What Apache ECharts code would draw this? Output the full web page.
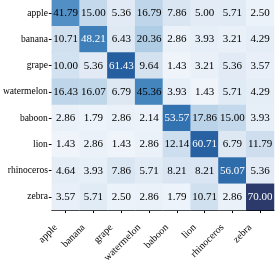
<!DOCTYPE html>
<html><head><meta charset="utf-8">
<script src="https://cdn.jsdelivr.net/npm/echarts@6/dist/echarts.min.js"></script>
<style>html,body{margin:0;padding:0;background:#fff}#c{width:276px;height:265px}</style>
</head><body><div id="c"></div>
<script>
var categories = ['apple','banana','grape','watermelon','baboon','lion','rhinoceros','zebra'];
var row_apple = [41.79,15.00,5.36,16.79,7.86,5.00,5.71,2.50];
var row_banana = [10.71,48.21,6.43,20.36,2.86,3.93,3.21,4.29];
var row_grape = [10.00,5.36,61.43,9.64,1.43,3.21,5.36,3.57];
var row_watermelon = [16.43,16.07,6.79,45.36,3.93,1.43,5.71,4.29];
var row_baboon = [2.86,1.79,2.86,2.14,53.57,17.86,15.00,3.93];
var row_lion = [1.43,2.86,1.43,2.86,12.14,60.71,6.79,11.79];
var row_rhinoceros = [4.64,3.93,7.86,5.71,8.21,8.21,56.07,5.36];
var row_zebra = [3.57,5.71,2.50,2.86,1.79,10.71,2.86,70.00];
var rows = [row_apple,row_banana,row_grape,row_watermelon,row_baboon,row_lion,row_rhinoceros,row_zebra];
var data = [];
rows.forEach(function(r, i){ r.forEach(function(v, j){
  data.push({value: [j, i, v], label: {color: v > 47 ? '#fff' : '#000'}});
}); });
var chart = echarts.init(document.getElementById('c'));
var font = 'Liberation Serif';
chart.setOption({
  animation: false,
  grid: {left: 49, right: 2, top: 0, bottom: 53},
  xAxis: {type: 'category', data: categories,
    axisLine: {lineStyle: {color: '#000', width: 1}},
    axisTick: {show: true, alignWithLabel: true, length: 3, lineStyle: {color: '#000'}},
    axisLabel: {rotate: 45, fontFamily: font, fontSize: 10, color: '#000', margin: 6, interval: 0,
      padding: [0, 14, 0, 0]},
    splitArea: {show: false}},
  yAxis: {type: 'category', data: categories, inverse: true,
    axisLine: {lineStyle: {color: '#000', width: 1}},
    axisTick: {show: true, alignWithLabel: true, length: 3, lineStyle: {color: '#000'}},
    axisLabel: {fontFamily: font, fontSize: 9.5, color: '#000', margin: 4, interval: 0}},
  visualMap: {show: false, min: 0, max: 70, dimension: 2,
    inRange: {color: ['#f3f7fc','#d7e4f1','#bcd4e9','#98bfdf','#6fa5d1','#4889c1','#3574b2','#2660a0','#2b3a6b']}},
  series: [{type: 'heatmap', data: data,
    label: {show: true, fontFamily: font, fontSize: 11,
      formatter: function(p){ return p.value[2].toFixed(2); }},
    itemStyle: {borderWidth: 0}
  }]
});
</script></body></html>
